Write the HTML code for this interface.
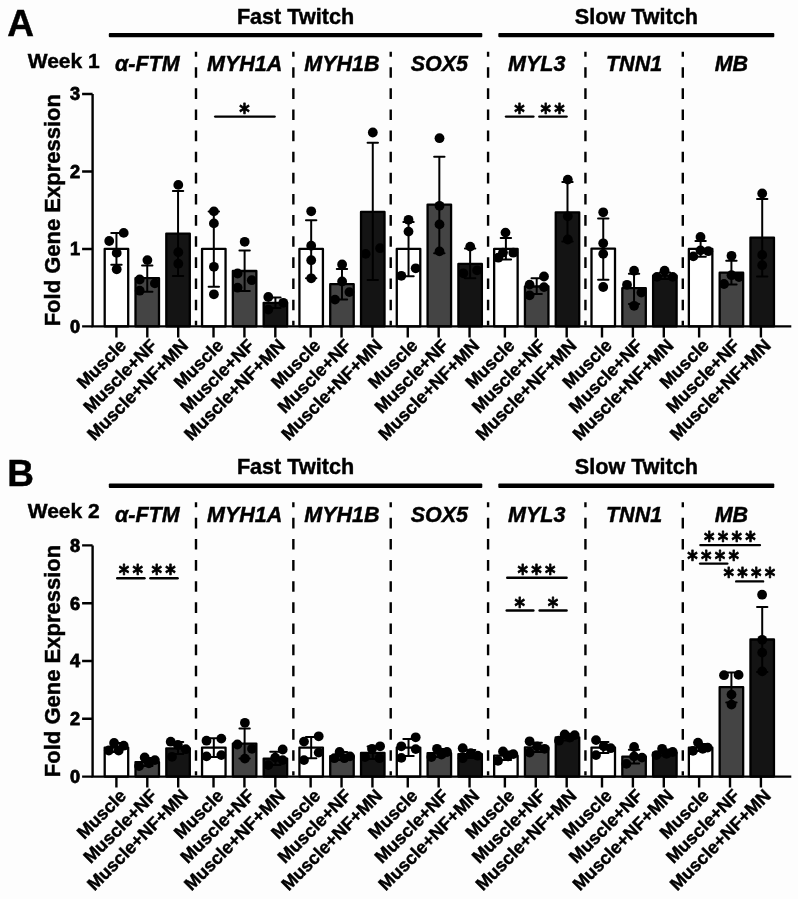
<!DOCTYPE html><html><head><meta charset="utf-8"><title>Fold Gene Expression</title><style>html,body{margin:0;padding:0;background:#fdfdfd;}svg{display:block;}text{font-family:"Liberation Sans",Arial,sans-serif;fill:#000;}.b{font-weight:bold;stroke:#000;stroke-width:0.45px;}.tl{stroke-width:0.8px;}.st{font-family:"DejaVu Sans","Liberation Sans",sans-serif;font-weight:bold;stroke:#000;stroke-width:0.7px;stroke-linejoin:round;}.bi{font-weight:bold;font-style:italic;stroke:#000;stroke-width:0.45px;}</style></head><body>
<svg width="798" height="899" viewBox="0 0 798 899">
<rect width="798" height="899" fill="#fdfdfd"/>
<text x="7.2" y="35.7" class="b" font-size="37">A</text>
<text x="295.5" y="23.8" class="b" font-size="21.6" text-anchor="middle">Fast Twitch</text>
<text x="636.4" y="23.8" class="b" font-size="21.6" text-anchor="middle">Slow Twitch</text>
<rect x="108.8" y="33" width="373.5" height="4.3" rx="1" fill="#000"/>
<rect x="498.3" y="33" width="276" height="4.3" rx="1" fill="#000"/>
<text x="27.7" y="67.6" class="b" font-size="21">Week 1</text>
<text x="147.25" y="71.4" class="bi" font-size="21.5" text-anchor="middle">α-FTM</text>
<text x="244.61" y="71.4" class="bi" font-size="21.5" text-anchor="middle">MYH1A</text>
<text x="341.97" y="71.4" class="bi" font-size="21.5" text-anchor="middle">MYH1B</text>
<text x="439.33" y="71.4" class="bi" font-size="21.5" text-anchor="middle">SOX5</text>
<text x="536.69" y="71.4" class="bi" font-size="21.5" text-anchor="middle">MYL3</text>
<text x="634.05" y="71.4" class="bi" font-size="21.5" text-anchor="middle">TNN1</text>
<text x="731.41" y="71.4" class="bi" font-size="21.5" text-anchor="middle">MB</text>
<line x1="196" y1="51.7" x2="196" y2="325.4" stroke="#000" stroke-width="2.4" stroke-dasharray="10.6 10.53" stroke-dashoffset="5.63"/>
<line x1="293.36" y1="51.7" x2="293.36" y2="325.4" stroke="#000" stroke-width="2.4" stroke-dasharray="10.6 10.53" stroke-dashoffset="5.63"/>
<line x1="390.72" y1="51.7" x2="390.72" y2="325.4" stroke="#000" stroke-width="2.4" stroke-dasharray="10.6 10.53" stroke-dashoffset="5.63"/>
<line x1="488.08" y1="51.7" x2="488.08" y2="325.4" stroke="#000" stroke-width="2.4" stroke-dasharray="10.6 10.53" stroke-dashoffset="5.63"/>
<line x1="585.44" y1="51.7" x2="585.44" y2="325.4" stroke="#000" stroke-width="2.4" stroke-dasharray="10.6 10.53" stroke-dashoffset="5.63"/>
<line x1="682.8" y1="51.7" x2="682.8" y2="325.4" stroke="#000" stroke-width="2.4" stroke-dasharray="10.6 10.53" stroke-dashoffset="5.63"/>
<rect x="104.7" y="248.9" width="23.5" height="77.5" fill="#ffffff" stroke="#000" stroke-width="2.3" stroke-linejoin="round"/>
<path d="M116.45 232.9V264.7" stroke="#000" stroke-width="2.0" fill="none"/>
<path d="M111.25 232.9H121.65M111.25 264.7H121.65" stroke="#000" stroke-width="2.0" stroke-linecap="round" fill="none"/>
<circle cx="123.7" cy="232.9" r="4.9"/>
<circle cx="109.2" cy="241" r="4.9"/>
<circle cx="116.7" cy="252.9" r="4.9"/>
<circle cx="116.7" cy="269.3" r="4.9"/>
<rect x="135.5" y="278.2" width="23.5" height="48.2" fill="#444444" stroke="#000" stroke-width="2.3" stroke-linejoin="round"/>
<path d="M147.25 265.4V291.7" stroke="#000" stroke-width="2.0" fill="none"/>
<path d="M142.05 265.4H152.45M142.05 291.7H152.45" stroke="#000" stroke-width="2.0" stroke-linecap="round" fill="none"/>
<circle cx="147.4" cy="260.1" r="4.9"/>
<circle cx="139.7" cy="279.5" r="4.9"/>
<circle cx="154.9" cy="283.4" r="4.9"/>
<circle cx="139.7" cy="290.7" r="4.9"/>
<rect x="166.3" y="233.6" width="23.5" height="92.8" fill="#141414" stroke="#000" stroke-width="2.3" stroke-linejoin="round"/>
<path d="M178.05 191V275.9" stroke="#000" stroke-width="2.0" fill="none"/>
<path d="M172.85 191H183.25M172.85 275.9H183.25" stroke="#000" stroke-width="2.0" stroke-linecap="round" fill="none"/>
<circle cx="178.3" cy="184.9" r="4.9"/>
<circle cx="178.3" cy="252.2" r="4.9"/>
<circle cx="178.3" cy="263.7" r="4.9"/>
<rect x="202.06" y="248.8" width="23.5" height="77.6" fill="#ffffff" stroke="#000" stroke-width="2.3" stroke-linejoin="round"/>
<path d="M213.81 211.4V286.8" stroke="#000" stroke-width="2.0" fill="none"/>
<path d="M208.61 211.4H219.01M208.61 286.8H219.01" stroke="#000" stroke-width="2.0" stroke-linecap="round" fill="none"/>
<circle cx="213.9" cy="211.4" r="4.9"/>
<circle cx="213.9" cy="223.4" r="4.9"/>
<circle cx="213.9" cy="266.8" r="4.9"/>
<circle cx="213.9" cy="294.3" r="4.9"/>
<rect x="232.86" y="271" width="23.5" height="55.4" fill="#444444" stroke="#000" stroke-width="2.3" stroke-linejoin="round"/>
<path d="M244.61 250.4V291" stroke="#000" stroke-width="2.0" fill="none"/>
<path d="M239.41 250.4H249.81M239.41 291H249.81" stroke="#000" stroke-width="2.0" stroke-linecap="round" fill="none"/>
<circle cx="244.7" cy="241.8" r="4.9"/>
<circle cx="237.6" cy="273.5" r="4.9"/>
<circle cx="251.8" cy="280.2" r="4.9"/>
<circle cx="237.6" cy="287.7" r="4.9"/>
<rect x="263.66" y="302.8" width="23.5" height="23.6" fill="#141414" stroke="#000" stroke-width="2.3" stroke-linejoin="round"/>
<path d="M275.41 297.5V308" stroke="#000" stroke-width="2.0" fill="none"/>
<path d="M270.21 297.5H280.61M270.21 308H280.61" stroke="#000" stroke-width="2.0" stroke-linecap="round" fill="none"/>
<circle cx="268.3" cy="297" r="4.9"/>
<circle cx="283.3" cy="302.8" r="4.9"/>
<circle cx="268.3" cy="309.6" r="4.9"/>
<rect x="299.42" y="248.9" width="23.5" height="77.5" fill="#ffffff" stroke="#000" stroke-width="2.3" stroke-linejoin="round"/>
<path d="M311.17 220.3V278.3" stroke="#000" stroke-width="2.0" fill="none"/>
<path d="M305.97 220.3H316.37M305.97 278.3H316.37" stroke="#000" stroke-width="2.0" stroke-linecap="round" fill="none"/>
<circle cx="311.2" cy="211.3" r="4.9"/>
<circle cx="311.2" cy="245.7" r="4.9"/>
<circle cx="311.2" cy="260.2" r="4.9"/>
<circle cx="311.2" cy="278.3" r="4.9"/>
<rect x="330.22" y="284.2" width="23.5" height="42.2" fill="#444444" stroke="#000" stroke-width="2.3" stroke-linejoin="round"/>
<path d="M341.97 268.9V299.6" stroke="#000" stroke-width="2.0" fill="none"/>
<path d="M336.77 268.9H347.17M336.77 299.6H347.17" stroke="#000" stroke-width="2.0" stroke-linecap="round" fill="none"/>
<circle cx="342.1" cy="264.5" r="4.9"/>
<circle cx="342.1" cy="281.5" r="4.9"/>
<circle cx="349.4" cy="292.1" r="4.9"/>
<circle cx="335" cy="299.6" r="4.9"/>
<rect x="361.02" y="211.9" width="23.5" height="114.5" fill="#141414" stroke="#000" stroke-width="2.3" stroke-linejoin="round"/>
<path d="M372.77 142.7V280" stroke="#000" stroke-width="2.0" fill="none"/>
<path d="M367.57 142.7H377.97M367.57 280H377.97" stroke="#000" stroke-width="2.0" stroke-linecap="round" fill="none"/>
<circle cx="372.8" cy="132.5" r="4.9"/>
<circle cx="365.7" cy="253.9" r="4.9"/>
<circle cx="380.1" cy="248.2" r="4.9"/>
<rect x="396.78" y="248.8" width="23.5" height="77.6" fill="#ffffff" stroke="#000" stroke-width="2.3" stroke-linejoin="round"/>
<path d="M408.53 221.9V276.2" stroke="#000" stroke-width="2.0" fill="none"/>
<path d="M403.33 221.9H413.73M403.33 276.2H413.73" stroke="#000" stroke-width="2.0" stroke-linecap="round" fill="none"/>
<circle cx="408.5" cy="219.8" r="4.9"/>
<circle cx="408.5" cy="231.6" r="4.9"/>
<circle cx="415.7" cy="268.3" r="4.9"/>
<circle cx="401.3" cy="275.8" r="4.9"/>
<rect x="427.58" y="204.6" width="23.5" height="121.8" fill="#444444" stroke="#000" stroke-width="2.3" stroke-linejoin="round"/>
<path d="M439.33 156.7V253.2" stroke="#000" stroke-width="2.0" fill="none"/>
<path d="M434.13 156.7H444.53M434.13 253.2H444.53" stroke="#000" stroke-width="2.0" stroke-linecap="round" fill="none"/>
<circle cx="439.5" cy="138.2" r="4.9"/>
<circle cx="439.5" cy="205.8" r="4.9"/>
<circle cx="439.5" cy="224.4" r="4.9"/>
<circle cx="439.5" cy="251.4" r="4.9"/>
<rect x="458.38" y="263.9" width="23.5" height="62.5" fill="#141414" stroke="#000" stroke-width="2.3" stroke-linejoin="round"/>
<path d="M470.13 248.6V278.3" stroke="#000" stroke-width="2.0" fill="none"/>
<path d="M464.93 248.6H475.33M464.93 278.3H475.33" stroke="#000" stroke-width="2.0" stroke-linecap="round" fill="none"/>
<circle cx="470.2" cy="246.6" r="4.9"/>
<circle cx="463.3" cy="273.3" r="4.9"/>
<circle cx="477.1" cy="270.4" r="4.9"/>
<rect x="494.14" y="248.9" width="23.5" height="77.5" fill="#ffffff" stroke="#000" stroke-width="2.3" stroke-linejoin="round"/>
<path d="M505.89 237.9V259.5" stroke="#000" stroke-width="2.0" fill="none"/>
<path d="M500.69 237.9H511.09M500.69 259.5H511.09" stroke="#000" stroke-width="2.0" stroke-linecap="round" fill="none"/>
<circle cx="505.5" cy="232.6" r="4.9"/>
<circle cx="503" cy="252.6" r="4.9"/>
<circle cx="513.3" cy="252.7" r="4.9"/>
<circle cx="498.3" cy="257.7" r="4.9"/>
<rect x="524.94" y="286.5" width="23.5" height="39.9" fill="#444444" stroke="#000" stroke-width="2.3" stroke-linejoin="round"/>
<path d="M536.69 278.3V294" stroke="#000" stroke-width="2.0" fill="none"/>
<path d="M531.49 278.3H541.89M531.49 294H541.89" stroke="#000" stroke-width="2.0" stroke-linecap="round" fill="none"/>
<circle cx="544" cy="276.5" r="4.9"/>
<circle cx="529.6" cy="284.6" r="4.9"/>
<circle cx="544" cy="287.1" r="4.9"/>
<circle cx="529.6" cy="295.3" r="4.9"/>
<rect x="555.74" y="212.3" width="23.5" height="114.1" fill="#141414" stroke="#000" stroke-width="2.3" stroke-linejoin="round"/>
<path d="M567.49 182.1V241.4" stroke="#000" stroke-width="2.0" fill="none"/>
<path d="M562.29 182.1H572.69M562.29 241.4H572.69" stroke="#000" stroke-width="2.0" stroke-linecap="round" fill="none"/>
<circle cx="567.8" cy="179.6" r="4.9"/>
<circle cx="567.8" cy="216.3" r="4.9"/>
<circle cx="567.8" cy="239.5" r="4.9"/>
<rect x="591.5" y="248.6" width="23.5" height="77.8" fill="#ffffff" stroke="#000" stroke-width="2.3" stroke-linejoin="round"/>
<path d="M603.25 218.6V279.8" stroke="#000" stroke-width="2.0" fill="none"/>
<path d="M598.05 218.6H608.45M598.05 279.8H608.45" stroke="#000" stroke-width="2.0" stroke-linecap="round" fill="none"/>
<circle cx="603.2" cy="212.3" r="4.9"/>
<circle cx="603.2" cy="243.3" r="4.9"/>
<circle cx="603.2" cy="253.9" r="4.9"/>
<circle cx="603.2" cy="287" r="4.9"/>
<rect x="622.3" y="288.2" width="23.5" height="38.2" fill="#444444" stroke="#000" stroke-width="2.3" stroke-linejoin="round"/>
<path d="M634.05 273.8V303.9" stroke="#000" stroke-width="2.0" fill="none"/>
<path d="M628.85 273.8H639.25M628.85 303.9H639.25" stroke="#000" stroke-width="2.0" stroke-linecap="round" fill="none"/>
<circle cx="634.1" cy="270.7" r="4.9"/>
<circle cx="627" cy="284.8" r="4.9"/>
<circle cx="641.4" cy="292.6" r="4.9"/>
<circle cx="634.1" cy="305.8" r="4.9"/>
<rect x="653.1" y="275.7" width="23.5" height="50.7" fill="#141414" stroke="#000" stroke-width="2.3" stroke-linejoin="round"/>
<path d="M664.85 272.5V279" stroke="#000" stroke-width="2.0" fill="none"/>
<path d="M659.65 272.5H670.05M659.65 279H670.05" stroke="#000" stroke-width="2.0" stroke-linecap="round" fill="none"/>
<circle cx="664.6" cy="270.7" r="4.9"/>
<circle cx="657" cy="276.9" r="4.9"/>
<circle cx="672.7" cy="276.9" r="4.9"/>
<rect x="688.86" y="248.9" width="23.5" height="77.5" fill="#ffffff" stroke="#000" stroke-width="2.3" stroke-linejoin="round"/>
<path d="M700.61 241V256.7" stroke="#000" stroke-width="2.0" fill="none"/>
<path d="M695.41 241H705.81M695.41 256.7H705.81" stroke="#000" stroke-width="2.0" stroke-linecap="round" fill="none"/>
<circle cx="700.5" cy="237" r="4.9"/>
<circle cx="700.5" cy="250.4" r="4.9"/>
<circle cx="708.3" cy="251.2" r="4.9"/>
<circle cx="693.3" cy="256.4" r="4.9"/>
<rect x="719.66" y="272.7" width="23.5" height="53.7" fill="#444444" stroke="#000" stroke-width="2.3" stroke-linejoin="round"/>
<path d="M731.41 260.8V284.4" stroke="#000" stroke-width="2.0" fill="none"/>
<path d="M726.21 260.8H736.61M726.21 284.4H736.61" stroke="#000" stroke-width="2.0" stroke-linecap="round" fill="none"/>
<circle cx="731.5" cy="255.8" r="4.9"/>
<circle cx="731.5" cy="275.2" r="4.9"/>
<circle cx="739" cy="277.1" r="4.9"/>
<circle cx="724" cy="284" r="4.9"/>
<rect x="750.46" y="237.6" width="23.5" height="88.8" fill="#141414" stroke="#000" stroke-width="2.3" stroke-linejoin="round"/>
<path d="M762.21 199V276.5" stroke="#000" stroke-width="2.0" fill="none"/>
<path d="M757.01 199H767.41M757.01 276.5H767.41" stroke="#000" stroke-width="2.0" stroke-linecap="round" fill="none"/>
<circle cx="762.2" cy="193.5" r="4.9"/>
<circle cx="762.2" cy="254.9" r="4.9"/>
<circle cx="762.2" cy="265.2" r="4.9"/>
<path d="M92.6 94V326.4H791.3" stroke="#000" stroke-width="2.4" fill="none"/>
<text x="80.2" y="332.8" class="b tl" font-size="18.2" text-anchor="end">0</text>
<text x="80.2" y="255.33" class="b tl" font-size="18.2" text-anchor="end">1</text>
<text x="80.2" y="177.87" class="b tl" font-size="18.2" text-anchor="end">2</text>
<text x="80.2" y="100.4" class="b tl" font-size="18.2" text-anchor="end">3</text>
<text transform="translate(127.4 346.6) rotate(-45)" class="b" font-size="18" text-anchor="end">Muscle</text>
<text transform="translate(158.3 346.6) rotate(-45)" class="b" font-size="18" text-anchor="end">Muscle+NF</text>
<text transform="translate(189.2 346.6) rotate(-45)" class="b" font-size="18" text-anchor="end">Muscle+NF+MN</text>
<text transform="translate(224.52 346.6) rotate(-45)" class="b" font-size="18" text-anchor="end">Muscle</text>
<text transform="translate(255.42 346.6) rotate(-45)" class="b" font-size="18" text-anchor="end">Muscle+NF</text>
<text transform="translate(286.32 346.6) rotate(-45)" class="b" font-size="18" text-anchor="end">Muscle+NF+MN</text>
<text transform="translate(321.64 346.6) rotate(-45)" class="b" font-size="18" text-anchor="end">Muscle</text>
<text transform="translate(352.54 346.6) rotate(-45)" class="b" font-size="18" text-anchor="end">Muscle+NF</text>
<text transform="translate(383.44 346.6) rotate(-45)" class="b" font-size="18" text-anchor="end">Muscle+NF+MN</text>
<text transform="translate(418.76 346.6) rotate(-45)" class="b" font-size="18" text-anchor="end">Muscle</text>
<text transform="translate(449.66 346.6) rotate(-45)" class="b" font-size="18" text-anchor="end">Muscle+NF</text>
<text transform="translate(480.56 346.6) rotate(-45)" class="b" font-size="18" text-anchor="end">Muscle+NF+MN</text>
<text transform="translate(515.88 346.6) rotate(-45)" class="b" font-size="18" text-anchor="end">Muscle</text>
<text transform="translate(546.78 346.6) rotate(-45)" class="b" font-size="18" text-anchor="end">Muscle+NF</text>
<text transform="translate(577.68 346.6) rotate(-45)" class="b" font-size="18" text-anchor="end">Muscle+NF+MN</text>
<text transform="translate(613 346.6) rotate(-45)" class="b" font-size="18" text-anchor="end">Muscle</text>
<text transform="translate(643.9 346.6) rotate(-45)" class="b" font-size="18" text-anchor="end">Muscle+NF</text>
<text transform="translate(674.8 346.6) rotate(-45)" class="b" font-size="18" text-anchor="end">Muscle+NF+MN</text>
<text transform="translate(710.12 346.6) rotate(-45)" class="b" font-size="18" text-anchor="end">Muscle</text>
<text transform="translate(741.02 346.6) rotate(-45)" class="b" font-size="18" text-anchor="end">Muscle+NF</text>
<text transform="translate(771.92 346.6) rotate(-45)" class="b" font-size="18" text-anchor="end">Muscle+NF+MN</text>
<path d="M82.1 326.4H92.6M82.1 248.93H92.6M82.1 171.47H92.6M82.1 94H92.6M116.4 326.4V337.4M147.3 326.4V337.4M178.2 326.4V337.4M213.52 326.4V337.4M244.42 326.4V337.4M275.32 326.4V337.4M310.64 326.4V337.4M341.54 326.4V337.4M372.44 326.4V337.4M407.76 326.4V337.4M438.66 326.4V337.4M469.56 326.4V337.4M504.88 326.4V337.4M535.78 326.4V337.4M566.68 326.4V337.4M602 326.4V337.4M632.9 326.4V337.4M663.8 326.4V337.4M699.12 326.4V337.4M730.02 326.4V337.4M760.92 326.4V337.4" stroke="#000" stroke-width="2.4" fill="none"/>
<text transform="translate(59.9 210.2) rotate(-90)" class="b" font-size="22" text-anchor="middle">Fold Gene Expression</text>
<line x1="215.2" y1="116.6" x2="274.6" y2="116.6" stroke="#000" stroke-width="2.4" stroke-linecap="round"/>
<text transform="translate(246.05 119.6) scale(1 1.18)" class="st" font-size="20" letter-spacing="3.3" text-anchor="middle">*</text>
<line x1="506" y1="116.6" x2="533.4" y2="116.6" stroke="#000" stroke-width="2.4" stroke-linecap="round"/>
<text transform="translate(521.05 119.6) scale(1 1.18)" class="st" font-size="20" letter-spacing="3.3" text-anchor="middle">*</text>
<line x1="539.3" y1="116.6" x2="566.6" y2="116.6" stroke="#000" stroke-width="2.4" stroke-linecap="round"/>
<text transform="translate(554.35 119.6) scale(1 1.18)" class="st" font-size="20" letter-spacing="3.3" text-anchor="middle">**</text>
<text x="7.2" y="486.3" class="b" font-size="37">B</text>
<text x="295.5" y="474.4" class="b" font-size="21.6" text-anchor="middle">Fast Twitch</text>
<text x="636.4" y="474.4" class="b" font-size="21.6" text-anchor="middle">Slow Twitch</text>
<rect x="108.8" y="483.6" width="373.5" height="4.3" rx="1" fill="#000"/>
<rect x="498.3" y="483.6" width="276" height="4.3" rx="1" fill="#000"/>
<text x="27.7" y="518.2" class="b" font-size="21">Week 2</text>
<text x="147.25" y="522" class="bi" font-size="21.5" text-anchor="middle">α-FTM</text>
<text x="244.61" y="522" class="bi" font-size="21.5" text-anchor="middle">MYH1A</text>
<text x="341.97" y="522" class="bi" font-size="21.5" text-anchor="middle">MYH1B</text>
<text x="439.33" y="522" class="bi" font-size="21.5" text-anchor="middle">SOX5</text>
<text x="536.69" y="522" class="bi" font-size="21.5" text-anchor="middle">MYL3</text>
<text x="634.05" y="522" class="bi" font-size="21.5" text-anchor="middle">TNN1</text>
<text x="731.41" y="522" class="bi" font-size="21.5" text-anchor="middle">MB</text>
<line x1="196" y1="502.3" x2="196" y2="775.6" stroke="#000" stroke-width="2.4" stroke-dasharray="10.6 10.53" stroke-dashoffset="5.63"/>
<line x1="293.36" y1="502.3" x2="293.36" y2="775.6" stroke="#000" stroke-width="2.4" stroke-dasharray="10.6 10.53" stroke-dashoffset="5.63"/>
<line x1="390.72" y1="502.3" x2="390.72" y2="775.6" stroke="#000" stroke-width="2.4" stroke-dasharray="10.6 10.53" stroke-dashoffset="5.63"/>
<line x1="488.08" y1="502.3" x2="488.08" y2="775.6" stroke="#000" stroke-width="2.4" stroke-dasharray="10.6 10.53" stroke-dashoffset="5.63"/>
<line x1="585.44" y1="502.3" x2="585.44" y2="775.6" stroke="#000" stroke-width="2.4" stroke-dasharray="10.6 10.53" stroke-dashoffset="5.63"/>
<line x1="682.8" y1="502.3" x2="682.8" y2="775.6" stroke="#000" stroke-width="2.4" stroke-dasharray="10.6 10.53" stroke-dashoffset="5.63"/>
<rect x="104.7" y="747.6" width="23.5" height="29" fill="#ffffff" stroke="#000" stroke-width="2.3" stroke-linejoin="round"/>
<path d="M116.45 743V752" stroke="#000" stroke-width="2.0" fill="none"/>
<path d="M111.25 743H121.65M111.25 752H121.65" stroke="#000" stroke-width="2.0" stroke-linecap="round" fill="none"/>
<circle cx="114.1" cy="743" r="4.9"/>
<circle cx="123.7" cy="745.7" r="4.9"/>
<circle cx="108.8" cy="750.5" r="4.9"/>
<circle cx="118.7" cy="750.5" r="4.9"/>
<rect x="135.5" y="762.1" width="23.5" height="14.5" fill="#444444" stroke="#000" stroke-width="2.3" stroke-linejoin="round"/>
<path d="M147.25 758V766" stroke="#000" stroke-width="2.0" fill="none"/>
<path d="M142.05 758H152.45M142.05 766H152.45" stroke="#000" stroke-width="2.0" stroke-linecap="round" fill="none"/>
<circle cx="144.7" cy="757.5" r="4.9"/>
<circle cx="154.9" cy="760.1" r="4.9"/>
<circle cx="139.1" cy="766.1" r="4.9"/>
<circle cx="148.9" cy="763.4" r="4.9"/>
<rect x="166.3" y="748.3" width="23.5" height="28.3" fill="#141414" stroke="#000" stroke-width="2.3" stroke-linejoin="round"/>
<path d="M178.05 742V754" stroke="#000" stroke-width="2.0" fill="none"/>
<path d="M172.85 742H183.25M172.85 754H183.25" stroke="#000" stroke-width="2.0" stroke-linecap="round" fill="none"/>
<circle cx="170.7" cy="741.7" r="4.9"/>
<circle cx="177.9" cy="745" r="4.9"/>
<circle cx="185.8" cy="749.2" r="4.9"/>
<circle cx="172" cy="756.8" r="4.9"/>
<rect x="202.06" y="747.6" width="23.5" height="29" fill="#ffffff" stroke="#000" stroke-width="2.3" stroke-linejoin="round"/>
<path d="M213.81 738.2V757" stroke="#000" stroke-width="2.0" fill="none"/>
<path d="M208.61 738.2H219.01M208.61 757H219.01" stroke="#000" stroke-width="2.0" stroke-linecap="round" fill="none"/>
<circle cx="206.5" cy="740.7" r="4.9"/>
<circle cx="221.3" cy="738.6" r="4.9"/>
<circle cx="206.5" cy="756.4" r="4.9"/>
<circle cx="221.3" cy="755.1" r="4.9"/>
<rect x="232.86" y="743.6" width="23.5" height="33" fill="#444444" stroke="#000" stroke-width="2.3" stroke-linejoin="round"/>
<path d="M244.61 728.5V758.6" stroke="#000" stroke-width="2.0" fill="none"/>
<path d="M239.41 728.5H249.81M239.41 758.6H249.81" stroke="#000" stroke-width="2.0" stroke-linecap="round" fill="none"/>
<circle cx="244.9" cy="722.8" r="4.9"/>
<circle cx="237.4" cy="744.5" r="4.9"/>
<circle cx="252" cy="748.8" r="4.9"/>
<circle cx="244.9" cy="758.6" r="4.9"/>
<rect x="263.66" y="758.6" width="23.5" height="18" fill="#141414" stroke="#000" stroke-width="2.3" stroke-linejoin="round"/>
<path d="M275.41 751.7V765" stroke="#000" stroke-width="2.0" fill="none"/>
<path d="M270.21 751.7H280.61M270.21 765H280.61" stroke="#000" stroke-width="2.0" stroke-linecap="round" fill="none"/>
<circle cx="282.7" cy="749.5" r="4.9"/>
<circle cx="275.2" cy="757.6" r="4.9"/>
<circle cx="282.7" cy="760.1" r="4.9"/>
<circle cx="268.3" cy="765.1" r="4.9"/>
<rect x="299.42" y="747.6" width="23.5" height="29" fill="#ffffff" stroke="#000" stroke-width="2.3" stroke-linejoin="round"/>
<path d="M311.17 736.9V758.2" stroke="#000" stroke-width="2.0" fill="none"/>
<path d="M305.97 736.9H316.37M305.97 758.2H316.37" stroke="#000" stroke-width="2.0" stroke-linecap="round" fill="none"/>
<circle cx="318.7" cy="736.3" r="4.9"/>
<circle cx="304" cy="741.6" r="4.9"/>
<circle cx="318.7" cy="752.6" r="4.9"/>
<circle cx="304" cy="760.1" r="4.9"/>
<rect x="330.22" y="756.1" width="23.5" height="20.5" fill="#444444" stroke="#000" stroke-width="2.3" stroke-linejoin="round"/>
<path d="M341.97 752V760" stroke="#000" stroke-width="2.0" fill="none"/>
<path d="M336.77 752H347.17M336.77 760H347.17" stroke="#000" stroke-width="2.0" stroke-linecap="round" fill="none"/>
<circle cx="339.6" cy="752" r="4.9"/>
<circle cx="334.4" cy="758.2" r="4.9"/>
<circle cx="350" cy="756.4" r="4.9"/>
<circle cx="344.4" cy="758.2" r="4.9"/>
<rect x="361.02" y="752.9" width="23.5" height="23.7" fill="#141414" stroke="#000" stroke-width="2.3" stroke-linejoin="round"/>
<path d="M372.77 746.5V759" stroke="#000" stroke-width="2.0" fill="none"/>
<path d="M367.57 746.5H377.97M367.57 759H377.97" stroke="#000" stroke-width="2.0" stroke-linecap="round" fill="none"/>
<circle cx="380.1" cy="746.3" r="4.9"/>
<circle cx="372" cy="748.8" r="4.9"/>
<circle cx="365" cy="757" r="4.9"/>
<circle cx="379.5" cy="758.2" r="4.9"/>
<rect x="396.78" y="747.6" width="23.5" height="29" fill="#ffffff" stroke="#000" stroke-width="2.3" stroke-linejoin="round"/>
<path d="M408.53 739.1V756.1" stroke="#000" stroke-width="2.0" fill="none"/>
<path d="M403.33 739.1H413.73M403.33 756.1H413.73" stroke="#000" stroke-width="2.0" stroke-linecap="round" fill="none"/>
<circle cx="415.7" cy="737.3" r="4.9"/>
<circle cx="401.3" cy="746.3" r="4.9"/>
<circle cx="415.7" cy="749.1" r="4.9"/>
<circle cx="401.3" cy="757.9" r="4.9"/>
<rect x="427.58" y="753.2" width="23.5" height="23.4" fill="#444444" stroke="#000" stroke-width="2.3" stroke-linejoin="round"/>
<path d="M439.33 749V757" stroke="#000" stroke-width="2.0" fill="none"/>
<path d="M434.13 749H444.53M434.13 757H444.53" stroke="#000" stroke-width="2.0" stroke-linecap="round" fill="none"/>
<circle cx="437" cy="748.8" r="4.9"/>
<circle cx="447" cy="752" r="4.9"/>
<circle cx="431.4" cy="757" r="4.9"/>
<circle cx="441.4" cy="754.5" r="4.9"/>
<rect x="458.38" y="754.1" width="23.5" height="22.5" fill="#141414" stroke="#000" stroke-width="2.3" stroke-linejoin="round"/>
<path d="M470.13 750.1V758" stroke="#000" stroke-width="2.0" fill="none"/>
<path d="M464.93 750.1H475.33M464.93 758H475.33" stroke="#000" stroke-width="2.0" stroke-linecap="round" fill="none"/>
<circle cx="462.7" cy="748.2" r="4.9"/>
<circle cx="470.8" cy="753.2" r="4.9"/>
<circle cx="477.7" cy="755.7" r="4.9"/>
<circle cx="462.7" cy="758.2" r="4.9"/>
<rect x="494.14" y="755.7" width="23.5" height="20.9" fill="#ffffff" stroke="#000" stroke-width="2.3" stroke-linejoin="round"/>
<path d="M505.89 751.5V760" stroke="#000" stroke-width="2.0" fill="none"/>
<path d="M500.69 751.5H511.09M500.69 760H511.09" stroke="#000" stroke-width="2.0" stroke-linecap="round" fill="none"/>
<circle cx="503" cy="751.4" r="4.9"/>
<circle cx="513.3" cy="754.1" r="4.9"/>
<circle cx="507.7" cy="756.4" r="4.9"/>
<circle cx="498" cy="760.8" r="4.9"/>
<rect x="524.94" y="747.3" width="23.5" height="29.3" fill="#444444" stroke="#000" stroke-width="2.3" stroke-linejoin="round"/>
<path d="M536.69 742.8V752" stroke="#000" stroke-width="2.0" fill="none"/>
<path d="M531.49 742.8H541.89M531.49 752H541.89" stroke="#000" stroke-width="2.0" stroke-linecap="round" fill="none"/>
<circle cx="529.6" cy="741.3" r="4.9"/>
<circle cx="537.1" cy="746.3" r="4.9"/>
<circle cx="544.6" cy="748.8" r="4.9"/>
<circle cx="529.6" cy="752.6" r="4.9"/>
<rect x="555.74" y="737.3" width="23.5" height="39.3" fill="#141414" stroke="#000" stroke-width="2.3" stroke-linejoin="round"/>
<path d="M567.49 734.5V740.5" stroke="#000" stroke-width="2.0" fill="none"/>
<path d="M562.29 734.5H572.69M562.29 740.5H572.69" stroke="#000" stroke-width="2.0" stroke-linecap="round" fill="none"/>
<circle cx="564.7" cy="734.4" r="4.9"/>
<circle cx="574.7" cy="735.1" r="4.9"/>
<circle cx="569.7" cy="737.6" r="4.9"/>
<circle cx="559" cy="740.7" r="4.9"/>
<rect x="591.5" y="747.6" width="23.5" height="29" fill="#ffffff" stroke="#000" stroke-width="2.3" stroke-linejoin="round"/>
<path d="M603.25 742V753" stroke="#000" stroke-width="2.0" fill="none"/>
<path d="M598.05 742H608.45M598.05 753H608.45" stroke="#000" stroke-width="2.0" stroke-linecap="round" fill="none"/>
<circle cx="596" cy="740.1" r="4.9"/>
<circle cx="603.8" cy="746.3" r="4.9"/>
<circle cx="610.7" cy="748.2" r="4.9"/>
<circle cx="596" cy="755.1" r="4.9"/>
<rect x="622.3" y="756.6" width="23.5" height="20" fill="#444444" stroke="#000" stroke-width="2.3" stroke-linejoin="round"/>
<path d="M634.05 749.8V763.5" stroke="#000" stroke-width="2.0" fill="none"/>
<path d="M628.85 749.8H639.25M628.85 763.5H639.25" stroke="#000" stroke-width="2.0" stroke-linecap="round" fill="none"/>
<circle cx="634.1" cy="747" r="4.9"/>
<circle cx="634.1" cy="756.4" r="4.9"/>
<circle cx="642" cy="757.6" r="4.9"/>
<circle cx="626.4" cy="763.9" r="4.9"/>
<rect x="653.1" y="752.6" width="23.5" height="24" fill="#141414" stroke="#000" stroke-width="2.3" stroke-linejoin="round"/>
<path d="M664.85 749.5V755.5" stroke="#000" stroke-width="2.0" fill="none"/>
<path d="M659.65 749.5H670.05M659.65 755.5H670.05" stroke="#000" stroke-width="2.0" stroke-linecap="round" fill="none"/>
<circle cx="662.1" cy="748.8" r="4.9"/>
<circle cx="672.7" cy="752" r="4.9"/>
<circle cx="656.4" cy="755.1" r="4.9"/>
<circle cx="666.5" cy="753.9" r="4.9"/>
<rect x="688.86" y="747.6" width="23.5" height="29" fill="#ffffff" stroke="#000" stroke-width="2.3" stroke-linejoin="round"/>
<path d="M700.61 744V751" stroke="#000" stroke-width="2.0" fill="none"/>
<path d="M695.41 744H705.81M695.41 751H705.81" stroke="#000" stroke-width="2.0" stroke-linecap="round" fill="none"/>
<circle cx="698" cy="742.6" r="4.9"/>
<circle cx="707.7" cy="747.6" r="4.9"/>
<circle cx="693" cy="750.8" r="4.9"/>
<circle cx="702.7" cy="748.9" r="4.9"/>
<rect x="719.66" y="687.1" width="23.5" height="89.5" fill="#444444" stroke="#000" stroke-width="2.3" stroke-linejoin="round"/>
<path d="M731.41 672.4V702.5" stroke="#000" stroke-width="2.0" fill="none"/>
<path d="M726.21 672.4H736.61M726.21 702.5H736.61" stroke="#000" stroke-width="2.0" stroke-linecap="round" fill="none"/>
<circle cx="724" cy="675.2" r="4.9"/>
<circle cx="738.6" cy="674.9" r="4.9"/>
<circle cx="731.5" cy="694.6" r="4.9"/>
<circle cx="731.5" cy="704.6" r="4.9"/>
<rect x="750.46" y="639.5" width="23.5" height="137.1" fill="#141414" stroke="#000" stroke-width="2.3" stroke-linejoin="round"/>
<path d="M762.21 607.1V672" stroke="#000" stroke-width="2.0" fill="none"/>
<path d="M757.01 607.1H767.41M757.01 672H767.41" stroke="#000" stroke-width="2.0" stroke-linecap="round" fill="none"/>
<circle cx="762.1" cy="594.7" r="4.9"/>
<circle cx="762.2" cy="639.8" r="4.9"/>
<circle cx="762.2" cy="652.6" r="4.9"/>
<circle cx="762.2" cy="671.4" r="4.9"/>
<path d="M92.6 545.4V776.6H791.3" stroke="#000" stroke-width="2.4" fill="none"/>
<text x="80.2" y="783" class="b tl" font-size="18.2" text-anchor="end">0</text>
<text x="80.2" y="725.2" class="b tl" font-size="18.2" text-anchor="end">2</text>
<text x="80.2" y="667.4" class="b tl" font-size="18.2" text-anchor="end">4</text>
<text x="80.2" y="609.6" class="b tl" font-size="18.2" text-anchor="end">6</text>
<text x="80.2" y="551.8" class="b tl" font-size="18.2" text-anchor="end">8</text>
<text transform="translate(127.4 796.8) rotate(-45)" class="b" font-size="18" text-anchor="end">Muscle</text>
<text transform="translate(158.3 796.8) rotate(-45)" class="b" font-size="18" text-anchor="end">Muscle+NF</text>
<text transform="translate(189.2 796.8) rotate(-45)" class="b" font-size="18" text-anchor="end">Muscle+NF+MN</text>
<text transform="translate(224.52 796.8) rotate(-45)" class="b" font-size="18" text-anchor="end">Muscle</text>
<text transform="translate(255.42 796.8) rotate(-45)" class="b" font-size="18" text-anchor="end">Muscle+NF</text>
<text transform="translate(286.32 796.8) rotate(-45)" class="b" font-size="18" text-anchor="end">Muscle+NF+MN</text>
<text transform="translate(321.64 796.8) rotate(-45)" class="b" font-size="18" text-anchor="end">Muscle</text>
<text transform="translate(352.54 796.8) rotate(-45)" class="b" font-size="18" text-anchor="end">Muscle+NF</text>
<text transform="translate(383.44 796.8) rotate(-45)" class="b" font-size="18" text-anchor="end">Muscle+NF+MN</text>
<text transform="translate(418.76 796.8) rotate(-45)" class="b" font-size="18" text-anchor="end">Muscle</text>
<text transform="translate(449.66 796.8) rotate(-45)" class="b" font-size="18" text-anchor="end">Muscle+NF</text>
<text transform="translate(480.56 796.8) rotate(-45)" class="b" font-size="18" text-anchor="end">Muscle+NF+MN</text>
<text transform="translate(515.88 796.8) rotate(-45)" class="b" font-size="18" text-anchor="end">Muscle</text>
<text transform="translate(546.78 796.8) rotate(-45)" class="b" font-size="18" text-anchor="end">Muscle+NF</text>
<text transform="translate(577.68 796.8) rotate(-45)" class="b" font-size="18" text-anchor="end">Muscle+NF+MN</text>
<text transform="translate(613 796.8) rotate(-45)" class="b" font-size="18" text-anchor="end">Muscle</text>
<text transform="translate(643.9 796.8) rotate(-45)" class="b" font-size="18" text-anchor="end">Muscle+NF</text>
<text transform="translate(674.8 796.8) rotate(-45)" class="b" font-size="18" text-anchor="end">Muscle+NF+MN</text>
<text transform="translate(710.12 796.8) rotate(-45)" class="b" font-size="18" text-anchor="end">Muscle</text>
<text transform="translate(741.02 796.8) rotate(-45)" class="b" font-size="18" text-anchor="end">Muscle+NF</text>
<text transform="translate(771.92 796.8) rotate(-45)" class="b" font-size="18" text-anchor="end">Muscle+NF+MN</text>
<path d="M82.1 776.6H92.6M82.1 718.8H92.6M82.1 661H92.6M82.1 603.2H92.6M82.1 545.4H92.6M116.4 776.6V787.6M147.3 776.6V787.6M178.2 776.6V787.6M213.52 776.6V787.6M244.42 776.6V787.6M275.32 776.6V787.6M310.64 776.6V787.6M341.54 776.6V787.6M372.44 776.6V787.6M407.76 776.6V787.6M438.66 776.6V787.6M469.56 776.6V787.6M504.88 776.6V787.6M535.78 776.6V787.6M566.68 776.6V787.6M602 776.6V787.6M632.9 776.6V787.6M663.8 776.6V787.6M699.12 776.6V787.6M730.02 776.6V787.6M760.92 776.6V787.6" stroke="#000" stroke-width="2.4" fill="none"/>
<text transform="translate(59.9 661) rotate(-90)" class="b" font-size="22" text-anchor="middle">Fold Gene Expression</text>
<line x1="117.2" y1="578.2" x2="144.5" y2="578.2" stroke="#000" stroke-width="2.4" stroke-linecap="round"/>
<text transform="translate(132.45 581.2) scale(1 1.18)" class="st" font-size="20" letter-spacing="3.3" text-anchor="middle">**</text>
<line x1="150.4" y1="578.2" x2="177.6" y2="578.2" stroke="#000" stroke-width="2.4" stroke-linecap="round"/>
<text transform="translate(165.25 581.2) scale(1 1.18)" class="st" font-size="20" letter-spacing="3.3" text-anchor="middle">**</text>
<line x1="507.2" y1="577.8" x2="566.6" y2="577.8" stroke="#000" stroke-width="2.4" stroke-linecap="round"/>
<text transform="translate(538.15 580.8) scale(1 1.18)" class="st" font-size="20" letter-spacing="3.3" text-anchor="middle">***</text>
<line x1="506.7" y1="610.5" x2="533.4" y2="610.5" stroke="#000" stroke-width="2.4" stroke-linecap="round"/>
<text transform="translate(521.45 613.5) scale(1 1.18)" class="st" font-size="20" letter-spacing="3.3" text-anchor="middle">*</text>
<line x1="539.6" y1="610.5" x2="566.6" y2="610.5" stroke="#000" stroke-width="2.4" stroke-linecap="round"/>
<text transform="translate(554.65 613.5) scale(1 1.18)" class="st" font-size="20" letter-spacing="3.3" text-anchor="middle">*</text>
<line x1="700.4" y1="545.1" x2="759.9" y2="545.1" stroke="#000" stroke-width="2.4" stroke-linecap="round"/>
<text transform="translate(731.55 548.1) scale(1 1.18)" class="st" font-size="20" letter-spacing="3.3" text-anchor="middle">****</text>
<line x1="700.1" y1="563.6" x2="727.3" y2="563.6" stroke="#000" stroke-width="2.4" stroke-linecap="round"/>
<text transform="translate(714.75 566.6) scale(1 1.18)" class="st" font-size="20" letter-spacing="3.3" text-anchor="middle">****</text>
<line x1="736.2" y1="581.4" x2="763.1" y2="581.4" stroke="#000" stroke-width="2.4" stroke-linecap="round"/>
<text transform="translate(751.05 584.4) scale(1 1.18)" class="st" font-size="20" letter-spacing="3.3" text-anchor="middle">****</text>
</svg></body></html>
